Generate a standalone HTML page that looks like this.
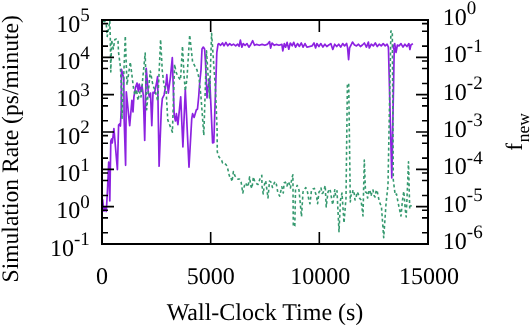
<!DOCTYPE html><html><head><meta charset="utf-8"><style>html,body{margin:0;padding:0;background:#fff;overflow:hidden}svg{display:block;filter:blur(0.45px)}</style></head><body><svg width="531" height="326" viewBox="0 0 531 326"><rect width="100%" height="100%" fill="#fff"/><polyline points="102.6,199.4 103.9,211.2 105.4,207.0 106.3,211.5 107.5,190.0 108.7,162.0 109.8,201.0 110.8,141.0 111.6,139.0 112.3,143.0 113.9,128.5 117.4,169.6 118.6,125.0 119.5,124.0 120.4,126.0 121.2,110.0 121.5,69.4 123.8,78.3 124.1,118.0 125.6,165.3 126.3,91.8 129.7,125.6 131.9,100.3 133.0,112.0 133.9,97.0 135.5,87.6 137.0,83.0 138.3,91.3 139.2,84.0 140.7,91.3 142.0,85.8 143.3,95.0 144.7,140.4 146.2,68.3 148.4,93.2 149.4,96.9 150.5,93.0 151.8,125.7 153.0,92.3 154.5,93.0 156.7,82.1 157.6,76.6 159.1,166.2 161.3,110.0 162.3,98.7 164.1,95.0 166.0,84.0 166.8,74.7 168.3,93.2 170.5,76.6 172.3,57.5 174.2,115.5 175.5,121.0 176.4,113.7 177.9,124.7 180.7,96.9 182.9,146.9 185.3,89.5 189.0,167.1 191.7,119.2 192.6,113.7 194.1,117.4 196.3,110.0 197.5,109.0 198.7,96.6 199.5,85.0 201.0,70.0 202.0,49.0 203.3,47.1 204.6,49.0 205.5,62.0 207.0,98.0 208.0,88.0 209.7,78.5 212.6,143.0 213.8,142.5 216.8,52.6 218.0,44.4 218.8,43.6 220.6,45.3 222.5,43.0 224.0,45.8 225.9,42.4 227.8,45.8 229.7,43.6 231.6,45.3 233.5,44.1 235.7,45.8 237.6,44.1 239.1,46.4 240.4,40.2 241.9,47.2 243.2,43.6 245.1,45.3 247.0,43.6 248.9,47.2 250.8,44.4 252.7,40.7 254.5,45.3 256.4,44.4 259.3,45.3 262.1,44.4 264.9,45.3 267.7,44.1 269.6,41.6 270.6,48.1 272.1,43.0 274.3,45.3 276.2,44.4 279.0,45.3 281.9,44.4 282.8,50.9 284.3,43.6 285.6,47.2 287.1,42.4 288.8,49.2 290.3,43.0 292.2,45.8 293.7,42.4 295.6,47.2 297.5,43.6 299.4,46.4 301.3,43.0 303.1,47.2 305.0,43.6 306.9,47.2 312.0,45.9 314.0,43.0 315.6,48.0 316.9,43.6 318.9,46.5 320.9,43.6 322.9,47.1 324.9,44.2 326.8,46.5 328.8,45.0 330.8,43.6 332.8,49.5 334.7,44.2 336.7,46.5 338.7,44.2 340.7,47.1 342.7,43.6 344.6,45.9 346.6,43.5 347.6,47.9 348.6,59.7 349.6,47.9 351.5,44.2 352.5,42.1 354.5,45.0 356.5,45.9 358.5,44.2 360.4,46.5 362.4,45.0 364.4,43.0 366.4,47.1 368.4,42.1 369.3,48.0 371.3,44.2 373.3,45.9 375.3,43.0 377.3,46.5 379.2,44.2 381.2,45.9 383.2,43.6 385.2,45.9 387.1,44.2 388.3,46.9 388.5,50.0 391.8,178.0 394.2,50.0 393.1,46.9 394.7,43.6 396.0,52.5 397.4,45.0 399.0,45.9 401.0,43.6 403.0,47.1 404.9,44.2 406.9,46.5 408.9,43.6 409.9,49.5 410.9,45.0 412.9,43.6" fill="none" stroke="#8c22e0" stroke-width="1.7" stroke-linejoin="round"/><polyline points="102.6,20.8 105.0,21.8 106.3,24.5 107.2,36.5 109.8,20.8 110.3,38.5 110.8,72.0 111.6,40.0 113.3,49.0 114.8,39.5 116.5,39.0 118.0,40.0 118.5,52.0 120.3,66.0 121.2,82.0 122.0,119.0 125.3,36.0 127.0,85.0 130.3,62.0 133.5,88.0 135.0,95.0 136.5,89.5 138.0,100.5 139.5,92.0 141.0,97.0 145.2,53.0 146.6,109.8 150.3,71.0 153.0,85.8 155.0,90.0 156.7,96.9 157.8,101.0 160.6,39.5 162.3,71.0 164.1,85.8 166.0,89.5 167.8,120.0 172.4,132.1 174.6,64.3 176.0,72.0 178.0,76.6 180.5,80.0 182.5,46.2 184.0,75.0 185.3,91.0 187.0,78.0 189.7,35.0 192.6,62.0 197.0,70.0 199.1,78.4 201.0,97.0 203.8,135.3 206.5,50.8 209.5,98.0 211.6,33.3 215.5,90.0 217.1,130.0 217.3,152.0 219.0,157.0 221.7,160.4 222.6,163.0 224.4,162.9 226.3,165.0 227.3,167.0 229.0,174.2 230.0,178.0 231.0,177.6 232.0,181.6 233.4,171.5 235.0,176.0 236.5,177.6 238.1,179.3 239.6,179.0 241.1,182.0 242.8,193.0 244.2,186.8 245.3,182.9 246.5,184.5 248.0,186.8 249.6,176.9 250.8,186.0 251.9,188.4 253.4,176.9 254.9,182.0 256.4,183.5 258.0,184.5 259.9,179.0 261.8,175.3 262.0,186.0 263.2,194.0 264.4,184.5 265.7,180.7 268.0,198.0 269.5,181.0 271.0,182.2 272.5,187.5 273.7,184.5 274.9,181.5 276.4,184.3 277.9,193.0 279.7,196.2 280.8,191.1 281.8,186.8 283.3,193.0 284.1,183.0 285.4,182.2 287.0,186.0 288.0,181.7 289.0,183.0 290.5,188.0 291.7,178.7 292.9,174.7 293.3,226.5 294.8,226.0 295.5,190.0 297.2,185.4 299.0,190.0 301.5,216.6 303.0,192.0 304.4,189.3 305.8,187.6 307.5,192.0 308.8,199.9 310.0,203.7 311.5,190.0 313.4,188.7 314.4,188.4 315.5,193.0 316.6,196.6 317.6,203.7 319.0,192.0 320.0,190.8 321.0,188.0 322.0,193.4 323.0,193.0 324.1,189.7 325.2,185.4 326.2,207.0 328.0,192.0 329.0,189.8 330.0,189.0 332.7,204.8 334.8,189.7 335.5,195.0 337.0,190.8 339.0,231.7 340.5,200.0 342.0,193.0 344.0,223.0 346.0,198.0 347.4,83.6 348.7,83.6 350.3,202.0 351.0,195.0 352.0,195.5 353.0,190.0 354.0,192.1 355.0,200.0 356.0,198.3 357.0,192.0 358.2,193.7 359.5,198.0 361.0,200.0 363.0,216.0 364.3,160.0 365.5,192.0 366.6,192.7 367.6,198.0 369.0,190.0 370.0,190.6 371.0,196.0 372.0,191.8 373.0,190.0 374.0,195.5 375.0,197.0 376.0,191.5 377.0,190.0 378.0,195.5 379.0,200.0 380.2,203.9 381.4,206.0 383.7,237.8 386.0,204.0 388.0,185.0 390.9,31.0 392.3,31.0 393.3,180.0 395.2,195.0 396.5,194.0 398.0,202.0 399.4,208.8 401.0,216.0 402.5,200.0 403.8,191.2 405.3,210.0 406.2,217.0 408.5,161.8 409.7,208.8 411.2,205.0" fill="none" stroke="#35996f" stroke-width="1.6" stroke-dasharray="3 2.6" stroke-linejoin="round"/><path d="M102 244.00H114M428 244.00H416M102 232.76H108M428 232.76H422M102 217.91H108M428 217.91H422M102 210.28H108M428 210.28H422M102 206.67H114M428 206.67H416M102 195.43H108M428 195.43H422M102 180.57H108M428 180.57H422M102 172.95H108M428 172.95H422M102 169.33H114M428 169.33H416M102 158.09H108M428 158.09H422M102 143.24H108M428 143.24H422M102 135.62H108M428 135.62H422M102 132.00H114M428 132.00H416M102 120.76H108M428 120.76H422M102 105.91H108M428 105.91H422M102 98.28H108M428 98.28H422M102 94.67H114M428 94.67H416M102 83.43H108M428 83.43H422M102 68.57H108M428 68.57H422M102 60.95H108M428 60.95H422M102 57.33H114M428 57.33H416M102 46.09H108M428 46.09H422M102 31.24H108M428 31.24H422M102 23.62H108M428 23.62H422M102 20.00H114M428 20.00H416M210.67 244V232M210.67 20V32M319.33 244V232M319.33 20V32" stroke="#000" stroke-width="1.6" fill="none"/><rect x="102" y="20" width="326" height="224" fill="none" stroke="#000" stroke-width="2"/><g text-rendering="geometricPrecision" font-family="Liberation Serif, serif" font-size="24" fill="#000"><text transform="translate(89.8,255.80) scale(1,1.0)" text-anchor="end">10<tspan font-size="19" dy="-10.6">-1</tspan></text><text transform="translate(89.8,218.47) scale(1,1.0)" text-anchor="end">10<tspan font-size="19" dy="-10.6">0</tspan></text><text transform="translate(89.8,181.13) scale(1,1.0)" text-anchor="end">10<tspan font-size="19" dy="-10.6">1</tspan></text><text transform="translate(89.8,143.80) scale(1,1.0)" text-anchor="end">10<tspan font-size="19" dy="-10.6">2</tspan></text><text transform="translate(89.8,106.47) scale(1,1.0)" text-anchor="end">10<tspan font-size="19" dy="-10.6">3</tspan></text><text transform="translate(89.8,69.13) scale(1,1.0)" text-anchor="end">10<tspan font-size="19" dy="-10.6">4</tspan></text><text transform="translate(89.8,31.80) scale(1,1.0)" text-anchor="end">10<tspan font-size="19" dy="-10.6">5</tspan></text><text transform="translate(442.8,249.00) scale(1,1.0)">10<tspan font-size="19" dy="-10.6">-6</tspan></text><text transform="translate(442.8,211.67) scale(1,1.0)">10<tspan font-size="19" dy="-10.6">-5</tspan></text><text transform="translate(442.8,174.33) scale(1,1.0)">10<tspan font-size="19" dy="-10.6">-4</tspan></text><text transform="translate(442.8,137.00) scale(1,1.0)">10<tspan font-size="19" dy="-10.6">-3</tspan></text><text transform="translate(442.8,99.67) scale(1,1.0)">10<tspan font-size="19" dy="-10.6">-2</tspan></text><text transform="translate(442.8,62.33) scale(1,1.0)">10<tspan font-size="19" dy="-10.6">-1</tspan></text><text transform="translate(442.8,25.00) scale(1,1.0)">10<tspan font-size="19" dy="-10.6">0</tspan></text><text transform="translate(102.00,284.2) scale(1,1.0)" text-anchor="middle">0</text><text transform="translate(210.67,284.2) scale(1,1.0)" text-anchor="middle">5000</text><text transform="translate(320.23,284.2) scale(1,1.0)" text-anchor="middle">10000</text><text transform="translate(428.90,284.2) scale(1,1.0)" text-anchor="middle">15000</text><text x="265.00" y="320" text-anchor="middle">Wall-Clock Time (s)</text><text transform="translate(18,148.8) rotate(-90)" text-anchor="middle" font-size="23.6">Simulation Rate (ps/minute)</text><text transform="translate(521.5,150.8) rotate(-90)" font-size="23.5">f</text><text transform="translate(528.6,142.2) rotate(-90)" font-size="17.5">new</text></g></svg></body></html>
